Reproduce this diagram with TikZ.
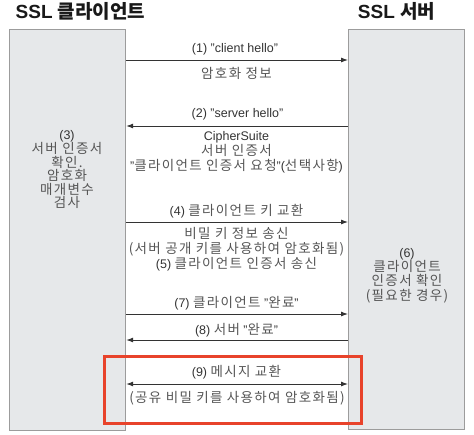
\documentclass[tikz,border=0pt]{standalone}
\usepackage{fontspec}
\setmainfont{Liberation Sans}
\newfontfamily\krfont{Noto Sans CJK KR}
\newfontfamily\krwide[Scale=1.08,LetterSpace=10]{Noto Sans CJK KR}
\usetikzlibrary{arrows.meta,positioning}
\definecolor{boxgray}{HTML}{E6E8EA}
\definecolor{edgegray}{HTML}{9C9C9C}
\definecolor{inkgray}{HTML}{333333}
\definecolor{krgray}{HTML}{555555}
\definecolor{hired}{HTML}{E8432B}
\newcommand{\kor}[1]{{\krwide\color{krgray}#1}}
\tikzset{
    %Define standard arrow tip
    >={Latex[length=7pt,width=5pt]},
    %Define style for the two hosts
    host/.style={
           rectangle,
           draw=edgegray,
           fill=boxgray,
           line width=1.2pt,
           minimum width=116pt,
           anchor=north west},
    % Define message arrow style
    msg/.style={
           draw=inkgray,
           line width=0.9pt},
    % Define text styles
    lbl/.style={
           text=inkgray,
           font=\fontsize{12.5}{15}\selectfont,
           align=center,
           inner sep=0pt},
    side/.style={
           lbl,
           font=\fontsize{12.5}{13.5}\selectfont},
    title/.style={
           text=black!90,
           font=\fontsize{19}{22}\selectfont\bfseries,
           inner sep=0pt},
    hilite/.style={
           draw=hired,
           line width=3pt}
}

\begin{document}
\begin{tikzpicture}[x=1pt,y=-1pt]
  \useasboundingbox (0,0) rectangle (474,434);
  % hosts
  \node[host,minimum height=401pt] (client) at (9,29) {};
  \node[host,minimum height=400pt] (server) at (348,29) {};
  \node[title] (ctitle) at (80.5,11) {SSL {\krfont 클라이언트}};
  \node[title] (stitle) at (396.5,11) {SSL {\krfont 서버}};
  % message rows
  \foreach \n/\y in {1/60,2/126,4/222,7/314,8/340,9/384}
    \coordinate (m\n) at (0,\y);
  \draw[msg,->] (client.east |- m1) -- (server.west |- m1);
  \draw[msg,<-] (client.east |- m2) -- (server.west |- m2);
  \draw[msg,->] (client.east |- m4) -- (server.west |- m4);
  \draw[msg,->] (client.east |- m7) -- (server.west |- m7);
  \draw[msg,<-] (client.east |- m8) -- (server.west |- m8);
  \draw[msg,<->] (client.east |- m9) -- (server.west |- m9);
  % labels
  \node[lbl] (hello1) at (235,49) {(1) "client hello"};
  \node[lbl] (info1) at (236.5,73) {\kor{암호화 정보}};
  \node[lbl] (hello2) at (237.5,114) {(2) "server hello"};
  \node[lbl] (info2) at (236.5,152)
    {CipherSuite\\\kor{서버 인증서}\\"\kor{클라이언트 인증서 요청}"(\kor{선택사항})};
  \node[lbl] (keyx) at (236.5,211) {(4) \kor{클라이언트 키 교환}};
  \node[lbl] (info4) at (236.5,249)
    {\kor{비밀 키 정보 송신}\\\kor{(서버 공개 키를 사용하여 암호화됨)}\\(5) \kor{클라이언트 인증서 송신}};
  \node[lbl] (fin7) at (236.5,303) {(7) \kor{클라이언트} "\kor{완료}"};
  \node[lbl] (fin8) at (236.5,330) {(8) \kor{서버} "\kor{완료}"};
  \node[lbl] (xchg) at (236.5,372) {(9) \kor{메시지 교환}};
  \node[lbl] (info9) at (237,398) {\kor{(공유 비밀 키를 사용하여 암호화됨)}};
  % host side notes
  \node[side] (check3) at (67,169.5)
    {(3)\\\kor{서버 인증서}\\\kor{확인.}\\\kor{암호화}\\\kor{매개변수}\\\kor{검사}};
  \node[side,font=\fontsize{12.5}{14.3}\selectfont] (check6) at (407,275.5)
    {(6)\\\kor{클라이언트}\\\kor{인증서 확인}\\\kor{(필요한 경우)}};
  % highlight
  \draw[hilite] (104,356) rectangle (361,423);
\end{tikzpicture}
\end{document}
